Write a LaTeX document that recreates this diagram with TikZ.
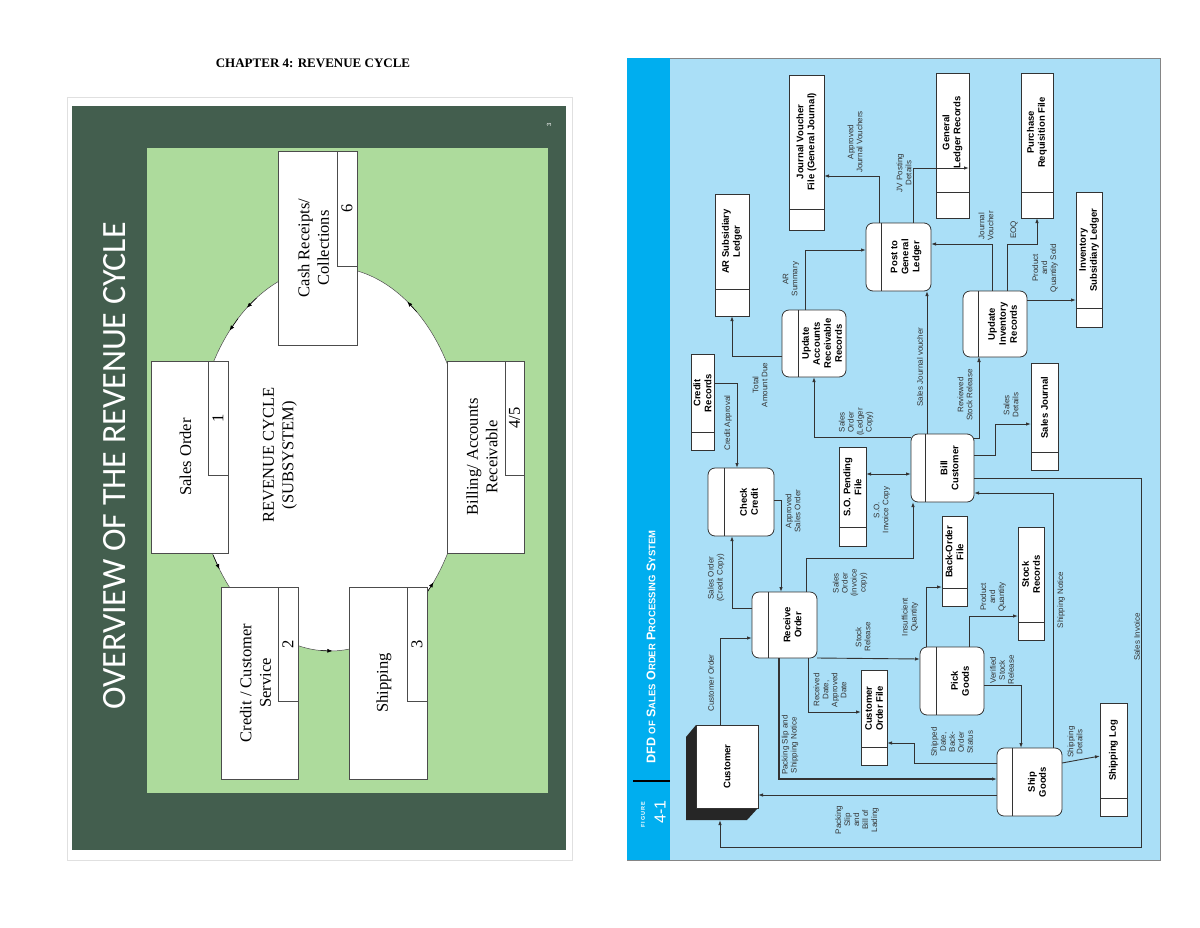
\documentclass[tikz,border=0pt]{standalone}
\usepackage{fontspec}
\setmainfont{Liberation Sans}
\newfontfamily\serifc{Liberation Serif}
\newfontfamily\carl{Carlito}
\usetikzlibrary{arrows.meta,calc}
\definecolor{dgreen}{HTML}{435E4E}
\definecolor{lgreen}{HTML}{ADDB9C}
\definecolor{strip}{HTML}{00AEEF}
\definecolor{lblue}{HTML}{AADFF7}
\definecolor{ink}{HTML}{333333}
\tikzset{
  flow/.style={draw=ink,line width=0.9pt,-{Latex[length=5pt,width=3.5pt]}},
  sbox/.style={draw=ink,fill=white,line width=0.8pt,inner sep=0pt,outer sep=0pt},
  pbox/.style={draw=ink,fill=white,line width=0.8pt,rounded corners=7pt,inner sep=0pt,outer sep=0pt},
  ntext/.style={rotate=90,font=\bfseries\fontsize{9.5}{11}\selectfont,align=center,inner sep=0pt},
  flab/.style={rotate=90,font=\fontsize{8}{9}\selectfont,align=center,text=ink,inner sep=0pt},
  rbox/.style={draw=black!70,fill=white,line width=0.5pt,inner sep=0pt,outer sep=0pt},
  rtext/.style={rotate=90,font=\serifc\fontsize{16.5}{19.5}\selectfont,align=center,inner sep=0pt},
  rarr/.style={-{Latex[length=5pt,width=4pt]},line width=0.5pt},
}
% store: name x1 y1 x2 y2 ydiv text
\newcommand\mystore[7]{%
  \node[sbox,minimum width={#4-#2},minimum height={#5-#3}] (#1) at ({(#2+#4)/2},{(#3+#5)/2}) {};
  \draw[ink,line width=0.8pt] (#2,#6) -- (#4,#6);
  \node[ntext] (#1t) at ({(#2+#4)/2},{(#3+#6)/2}) {#7};}
% process: name x1 y1 x2 y2 xline text
\newcommand\myproc[7]{%
  \node[pbox,minimum width={#4-#2},minimum height={#5-#3}] (#1) at ({(#2+#4)/2},{(#3+#5)/2}) {};
  \draw[ink,line width=0.7pt] (#6,#3) -- (#6,#5);
  \node[ntext] (#1t) at ({(#6+#4)/2},{(#3+#5)/2}) {#7};}
% revenue box: name x1 y1 x2 y2 xtab ytab text number
\newcommand\myrbox[9]{%
  \node[rbox,minimum width={#4-#2},minimum height={#5-#3}] (#1) at ({(#2+#4)/2},{(#3+#5)/2}) {};
  \draw[black!70,line width=0.5pt] (#6,#3) |- (#4,#7);
  \node[rtext] (#1t) at ({(#2+#6)/2+6},{(#3+#5)/2}) {#8};
  \node[rtext] (#1n) at ({(#6+#4)/2},{(#3+#7)/2}) {#9};}
\begin{document}
\begin{tikzpicture}[x=1pt,y=-1pt]
\useasboundingbox (0,0) rectangle (1200,927);
\fill[white] (0,0) rectangle (1200,927);
% ---------------- heading
\node[font=\serifc\bfseries\fontsize{13}{13}\selectfont] (head) at (313,63) {CHAPTER 4: REVENUE CYCLE};
% ---------------- left panel
\draw[black!12,line width=1pt] (67,97) rectangle (572,860);
\fill[dgreen] (72,106) rectangle (566,850);
\fill[lgreen] (147,148) rectangle (548,793);
\node[rotate=90,text=white,font=\carl\fontsize{34}{34}\selectfont] (title) at (115,466) {OVERVIEW OF THE REVENUE CYCLE};
\node[rotate=90,text=white!70,font=\fontsize{6}{6}\selectfont] (pnum) at (549,125) {3};
\draw[black!70,fill=white,line width=0.5pt] (330,459) ellipse [x radius=135, y radius=192];
\foreach \t in {232,222,145,89,40,305}{
  \draw[rarr] ({330+135*cos(\t+5)},{459+192*sin(\t+5)}) -- ({330+135*cos(\t)},{459+192*sin(\t)});}
\node[rtext] (rc) at (280,455) {REVENUE CYCLE\\(SUBSYSTEM)};
\myrbox{so}{151}{361}{228}{553}{208}{475}{Sales Order}{1}
\myrbox{cr}{278}{151}{357}{345}{337}{266}{Cash Receipts/\\Collections}{6}
\myrbox{bi}{447}{361}{524}{553}{505}{475}{Billing/ Accounts\\Receivable}{4/5}
\myrbox{cs}{221}{587}{298}{779}{278}{701}{Credit / Customer\\Service}{2}
\myrbox{sh}{349}{587}{427}{779}{407}{701}{Shipping}{3}
% ---------------- right panel
\fill[lblue] (627,58) rectangle (1160,860);
\draw[ink!60,line width=0.8pt] (627,58) rectangle (1160,860);
\fill[strip] (627,58) rectangle (670,860);
\draw[black,line width=1.5pt] (633,781) -- (670,781);
\node[rotate=90,text=white,font=\bfseries\fontsize{5.5}{5.5}\selectfont] (fig) at (643,815) {F\,I\,G\,U\,R\,E};
\node[rotate=90,text=white,font=\fontsize{16}{16}\selectfont] (fnum) at (660,812) {4-1};
\node[rotate=90,text=white,font=\bfseries\fontsize{12.5}{12.5}\selectfont,anchor=west] (dfdt) at (651,767)
  {DFD {\fontsize{9.5}{9.5}\selectfont OF} S{\fontsize{9.5}{9.5}\selectfont ALES} O{\fontsize{9.5}{9.5}\selectfont RDER} P{\fontsize{9.5}{9.5}\selectfont ROCESSING} S{\fontsize{9.5}{9.5}\selectfont YSTEM}};
% stores
\mystore{jvf}{789}{75}{824}{230}{209}{Journal Voucher\\File (General Journal)}
\mystore{arl}{715}{194}{749}{316}{289}{AR Subsidiary\\Ledger}
\mystore{glr}{936}{73}{969}{218}{192}{General\\Ledger Records}
\mystore{prf}{1021}{73}{1053}{218}{192}{Purchase\\Requisition File}
\mystore{isl}{1076}{192}{1102}{327}{308}{Inventory\\Subsidiary Ledger}
\mystore{crr}{691}{354}{714}{450}{432}{Credit\\Records}
\mystore{soj}{1031}{363}{1058}{470}{452}{Sales Journal}
\mystore{sop}{839}{447}{866}{546}{527}{S.O. Pending\\File}
\mystore{bof}{942}{516}{967}{606}{588}{Back-Order\\File}
\mystore{str}{1018}{527}{1044}{640}{622}{Stock\\Records}
\mystore{cof}{861}{670}{887}{765}{747}{Customer\\Order File}
\mystore{slg}{1100}{703}{1127}{816}{798}{Shipping Log}
% processes
\myproc{pgl}{866}{223}{931}{291}{881}{Post to\\General\\Ledger}
\myproc{uar}{782}{310}{846}{377}{798}{Update\\Accounts\\Receivable\\Records}
\myproc{uir}{963}{291}{1027}{357}{978}{Update\\Inventory\\Records}
\myproc{cc}{708}{468}{774}{536}{724}{Check\\Credit}
\myproc{bc}{911}{434}{974}{502}{925}{Bill\\Customer}
\myproc{ro}{752}{592}{817}{658}{768}{Receive\\Order}
\myproc{pg}{920}{647}{984}{715}{936}{Pick\\Goods}
\myproc{sg}{997}{748}{1062}{816}{1012}{Ship\\Goods}
% customer entity
\fill[black!85] (696,725) -- (686,737) -- (686,820) -- (747,820) -- (758,808) -- cycle;
\node[sbox,minimum width=62,minimum height=83] (cust) at (727,766.5) {};
\node[ntext] (custt) at (727,766.5) {Customer};
% flows
\draw[flow] (uar.north west) ++(23,0) |- ([yshift=7pt]pgl.west);
\draw[flow] (pgl.north west) ++(13,0) |- ([yshift=-23.5pt]jvf.east);
\draw[flow] (pgl.north west) ++(47,0) |- ([yshift=-22.5pt]glr.east);
\draw[flow] (uir.north west) ++(29,0) |- ([yshift=13pt]pgl.east);
\draw[flow] (uir.north west) ++(44,0) -- ++(0,-47) -| (prf.south);
\draw[flow] ([yshift=24pt]uir.east) -- ([yshift=-40.5pt]isl.west);
\draw[flow] ([yshift=-12.5pt]uar.west) -| (arl.south);
\draw[flow] ([yshift=19pt]crr.east) -| ([xshift=-4pt]cc.north);
\draw[flow] ([yshift=2pt]cc.east) -| ([xshift=-3.5pt]ro.north);
\draw[flow] ([yshift=17pt]ro.west) -| ([xshift=-9pt]cc.south);
\draw[flow] ([yshift=31pt]bc.west) -| (uar.south);
\draw[flow] (bc.north west) ++(16,0) -- ([xshift=28.5pt]pgl.south);
\draw[flow,{Latex[length=5pt,width=3.5pt]}-{Latex[length=5pt,width=3.5pt]}] ([yshift=-6pt]bc.west) -- ([yshift=22.5pt]sop.east);
\draw[flow] (ro.north west) ++(54,0) -- ++(0,-34) -| ([xshift=-29.5pt]bc.south);
\draw[flow,line width=0.5pt] ([yshift=-4pt]bc.north east) -| ([xshift=-16pt]uir.south);
\draw[flow] ([yshift=13pt]bc.east) -- ++(21,0) |- ([yshift=-7.5pt]soj.west);
\draw[flow] ([yshift=-10pt]bc.east) -- ++(167,0) -- ++(0,369) -| ([xshift=-7pt,yshift=-12pt]cust.south);
\draw[flow] (sg.north west) ++(56,0) |- ([yshift=-25pt]bc.east);
\draw[flow] (pg.north west) ++(6,0) |- ([yshift=-26pt]bof.west);
\draw[flow] (pg.north west) ++(49,0) |- ([yshift=-32.5pt]str.west);
\draw[flow] (ro.south east) -- ([yshift=22pt]pg.west);
\draw[flow] ([yshift=-4pt]pg.east) -| ([xshift=-8.5pt]sg.north);
\draw[flow] (ro.south west) ++(56,0) |- ([yshift=5.5pt]cof.west);
\draw[flow,line width=1.2pt] (ro.south west) ++(27,0) |- ([yshift=3pt]sg.west);
\draw[flow] ([yshift=19pt]sg.west) -- ++(-83,0) |- ([yshift=-25.5pt]cof.east);
\draw[flow] ([yshift=-13pt]sg.west) -- ([yshift=-28.5pt]cust.east);
\draw[flow] (cust.north west) ++(24,0) |- ([yshift=-13pt]ro.west);
\draw[flow] ([yshift=19pt]sg.east) -- ([yshift=3.5pt]slg.west);
% flow labels
\node[flab] (l1) at (855,142) {Approved\\Journal Vouchers};
\node[flab] (l2) at (904,173) {JV Posting\\Details};
\node[flab] (l3) at (791,279) {AR\\Summary};
\node[flab] (l4) at (986,226) {Journal\\Voucher};
\node[flab] (l5) at (1014,230) {EOQ};
\node[flab] (l6) at (1045,268) {Product\\and\\Quantity Sold};
\node[flab] (l7) at (760,385) {Total\\Amount Due};
\node[flab] (l8) at (728,423) {Credit Approval};
\node[flab] (l9) at (793,511) {Approved\\Sales Order};
\node[flab] (l10) at (716,578) {Sales Order\\(Credit Copy)};
\node[flab] (l11) at (856,422) {Sales\\Order\\(Ledger\\Copy)};
\node[flab] (l12) at (920,367) {Sales Journal voucher};
\node[flab] (l13) at (965,395) {Reviewed\\Stock Release};
\node[flab] (l14) at (1011,405) {Sales\\Details};
\node[flab] (l15) at (882,510) {S.O.\\Invoice Copy};
\node[flab] (l16) at (850,583) {Sales\\Order\\(invoice\\copy)};
\node[flab] (l17) at (910,617) {Insufficient\\Quantity};
\node[flab] (l18) at (993,597) {Product\\and\\Quantity};
\node[flab] (l19) at (1061,600) {Shipping Notice};
\node[flab] (l20) at (1137,637) {Sales Invoice};
\node[flab] (l21) at (863,637) {Stock\\Release};
\node[flab] (l22) at (830,690) {Received\\Date,\\Approved\\Date};
\node[flab] (l23) at (711,683) {Customer Order};
\node[flab] (l24) at (790,745) {Packing Slip and\\Shipping Notice};
\node[flab] (l25) at (1002,670) {Verified\\Stock\\Release};
\node[flab] (l26) at (952,742) {Shipped\\Date,\\Back-\\Order\\Status};
\node[flab] (l27) at (1075,742) {Shipping\\Details};
\node[flab] (l28) at (857,820) {Packing\\Slip\\and\\Bill of\\Lading};
\end{tikzpicture}
\end{document}
